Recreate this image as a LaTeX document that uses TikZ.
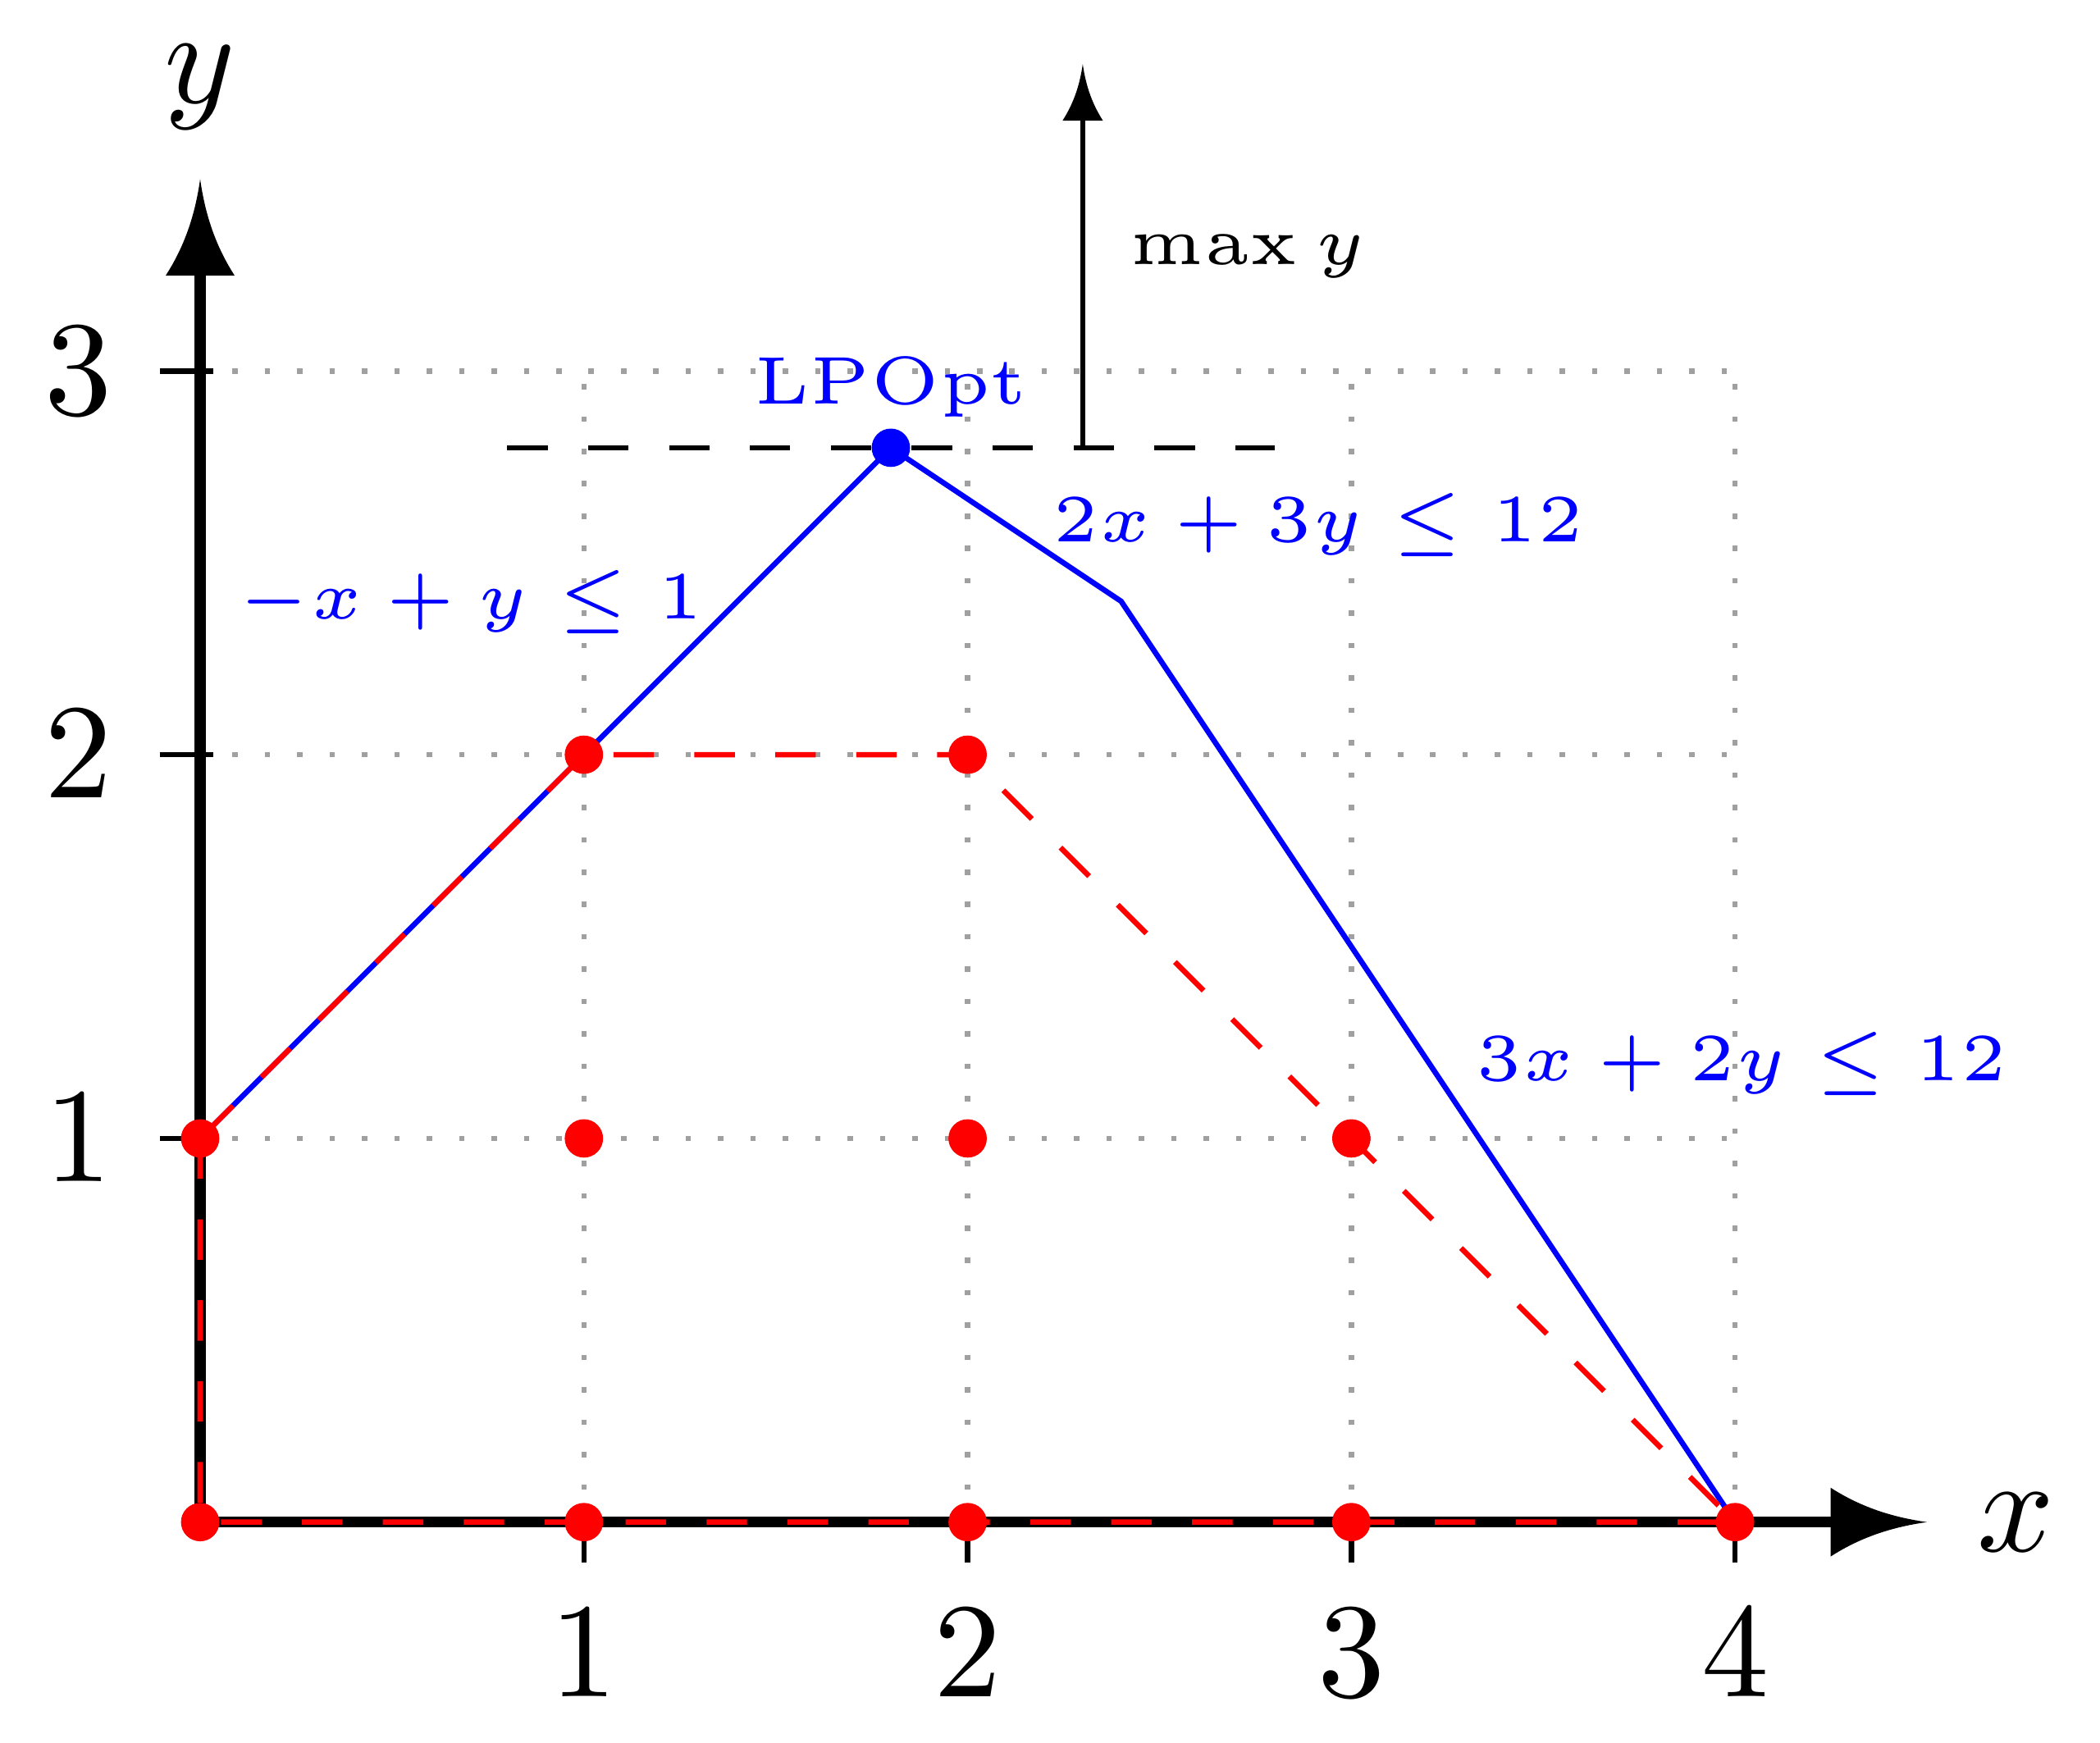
\documentclass[tikz,border=0pt]{standalone}
\definecolor{gridgray}{RGB}{160,160,160}
\tikzset{
  gridline/.style={gridgray, dotted, line width=0.4pt},
  axisline/.style={line width=0.8pt},
  tickline/.style={line width=0.4pt},
  feasible/.style={blue, line width=0.4pt},
  intpoly/.style={red, dashed, line width=0.4pt},
  objline/.style={black, dashed, line width=0.4pt},
  arrowline/.style={black, line width=0.4pt},
  dotred/.style={circle, fill=red, inner sep=0pt, minimum size=0.1cm},
  dotblue/.style={circle, fill=blue, inner sep=0pt, minimum size=0.1cm},
  conlabel/.style={blue, font=\tiny, inner sep=0pt, anchor=base},
  smalllabel/.style={black, font=\tiny, inner sep=0pt, anchor=base},
  ticklabel/.style={font=\normalsize, inner sep=0pt, anchor=base},
  axislabel/.style={font=\normalsize, inner sep=0pt},
  latexhead/.pic={\fill (0,0) .. controls (-3.5pt,0.5pt) and (-7pt,1.5pt) .. (-10.5pt,3.75pt) -- (-10.5pt,-3.75pt) .. controls (-7pt,-1.5pt) and (-3.5pt,-0.5pt) .. cycle;}
}
\begin{document}
\begin{tikzpicture}
\useasboundingbox (-0.5216,-0.5757) rectangle (4.951,3.967);
% key points
\coordinate (O) at (0,0);
\coordinate (A) at (0,1);
\coordinate (B) at (1.8,2.8);
\coordinate (C) at (2.4,2.4);
\coordinate (D) at (4,0);
\coordinate (Q12) at (1,2);
\coordinate (Q22) at (2,2);
\coordinate (xbase) at (4.26,0);
\coordinate (xtip) at (4.5,0);
\coordinate (ybase) at (0,3.26);
\coordinate (ytip) at (0,3.5);
\coordinate (objL) at (0.8,2.8);
\coordinate (objR) at (2.8,2.8);
\coordinate (maxS) at (2.3,2.8);
\coordinate (maxE) at (2.3,3.66);
\coordinate (maxT) at (2.3,3.8);
% grid
\draw[gridline] (0,0) grid (4,3);
% LP polytope
\draw[feasible] (A) -- (B) -- (C) -- (D);
% axes
\draw[axisline] (O) -- (xbase);
\draw[axisline] (O) -- (ybase);
\pic at (xtip) [scale=0.68] {latexhead};
\pic at (ytip) [rotate=90, scale=0.68] {latexhead};
\foreach \i in {1,...,4} \draw[tickline] (\i,-3pt) -- (\i,1pt);
\foreach \i in {1,...,3} \draw[tickline] (-3pt,\i) -- (1pt,\i);
% integer hull
\draw[intpoly] (A) -- (O) -- (D) -- (Q22) -- (Q12) -- cycle;
% objective
\draw[objline] (objL) -- (objR);
\draw[arrowline] (maxS) -- (maxE);
\pic at (maxT) [rotate=90, scale=0.4] {latexhead};
% integer points
\foreach \x/\y in {0/0,1/0,2/0,3/0,4/0,0/1,1/1,2/1,3/1,1/2,2/2}
  \node[dotred] (p\x\y) at (\x,\y) {};
\node[dotblue] (opt) at (B) {};
% labels
\node[conlabel] (lpopt) at (1.8,2.914) {LPOpt};
\node[smalllabel] (maxlab) at (2.73,3.277) {$\max y$};
\node[conlabel] (c1) at (0.704,2.355) {$-x + y \leq 1$};
\node[conlabel] (c2) at (2.914,2.556) {$2x + 3y \leq 12$};
\node[conlabel] (c3) at (4.017,1.151) {$3x + 2y \leq 12$};
\foreach \i in {1,...,4} \node[ticklabel] (xl\i) at (\i,-0.4545) {$\i$};
\foreach \i in {1,...,3} \node[ticklabel] (yl\i) at (-0.317,\i-0.113) {$\i$};
\node[axislabel] (xlab) at (4.731,0) {$x$};
\node[axislabel] (ylab) at (0,3.74) {$y$};
\end{tikzpicture}
\end{document}
